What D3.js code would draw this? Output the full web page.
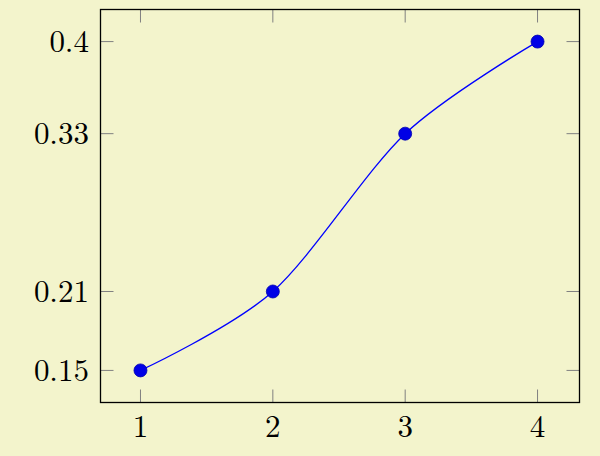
<!DOCTYPE html>
<meta charset="utf-8">
<script src="https://d3js.org/d3.v7.min.js"></script>
<style>
  body { margin: 0; background: #f3f4cc; }
</style>
<div id="chart"></div>
<script>
// data
var xValues = [1, 2, 3, 4];
var yValues = [0.15, 0.21, 0.33, 0.4];
var xTicks = [1, 2, 3, 4];
var yTicks = [0.15, 0.21, 0.33, 0.4];
var yTickLabels = ["0.15", "0.21", "0.33", "0.4"];

var width = 600, height = 456;
var svg = d3.select("#chart").append("svg")
    .attr("width", width).attr("height", height);

svg.append("rect").attr("width", width).attr("height", height).attr("fill", "#f3f4cc");

var plotLeft = 100.5, plotRight = 579.5, plotTop = 9.5, plotBottom = 402.5;

var x = d3.scaleLinear().domain([0.698, 4.317]).range([plotLeft, plotRight]);
var y = d3.scaleLinear().domain([0.1256, 0.4244]).range([plotBottom, plotTop]);

var font = "'Latin Modern Roman', 'CMU Serif', 'Liberation Serif', 'DejaVu Serif', serif";

// ticks (inside, both sides)
var tickLen = 13;
var g = svg.append("g");
xTicks.forEach(function(t) {
  g.append("line").attr("x1", x(t)).attr("x2", x(t)).attr("y1", plotBottom).attr("y2", plotBottom - tickLen)
    .attr("stroke", "#808080").attr("stroke-width", 1);
  g.append("line").attr("x1", x(t)).attr("x2", x(t)).attr("y1", plotTop).attr("y2", plotTop + tickLen)
    .attr("stroke", "#808080").attr("stroke-width", 1);
  svg.append("text").attr("x", x(t)).attr("y", 437)
    .attr("text-anchor", "middle").style("font-family", font).style("font-size", "31px")
    .text(t);
});
yTicks.forEach(function(t, i) {
  g.append("line").attr("x1", plotLeft).attr("x2", plotLeft + tickLen).attr("y1", y(t)).attr("y2", y(t))
    .attr("stroke", "#808080").attr("stroke-width", 1);
  g.append("line").attr("x1", plotRight).attr("x2", plotRight - tickLen).attr("y1", y(t)).attr("y2", y(t))
    .attr("stroke", "#808080").attr("stroke-width", 1);
  svg.append("text").attr("x", 89).attr("y", y(t) + 10.5)
    .attr("text-anchor", "end").style("font-family", font).style("font-size", "31px")
    .text(yTickLabels[i]);
});

// frame
svg.append("rect").attr("x", plotLeft).attr("y", plotTop)
  .attr("width", plotRight - plotLeft).attr("height", plotBottom - plotTop)
  .attr("fill", "none").attr("stroke", "black").attr("stroke-width", 1.3);

var pts = xValues.map(function(v, i) { return [v, yValues[i]]; });

var line = d3.line()
  .x(function(d) { return x(d[0]); })
  .y(function(d) { return y(d[1]); })
  .curve(d3.curveCardinal.tension(0.1));

svg.append("path").datum(pts).attr("d", line)
  .attr("fill", "none").attr("stroke", "#0000ff").attr("stroke-width", 1.3);

svg.selectAll("circle.pt").data(pts).enter().append("circle")
  .attr("class", "pt")
  .attr("cx", function(d) { return x(d[0]); })
  .attr("cy", function(d) { return y(d[1]); })
  .attr("r", 6.5)
  .attr("fill", "#0000e6").attr("stroke", "#0000b0").attr("stroke-width", 0.8);
</script>
